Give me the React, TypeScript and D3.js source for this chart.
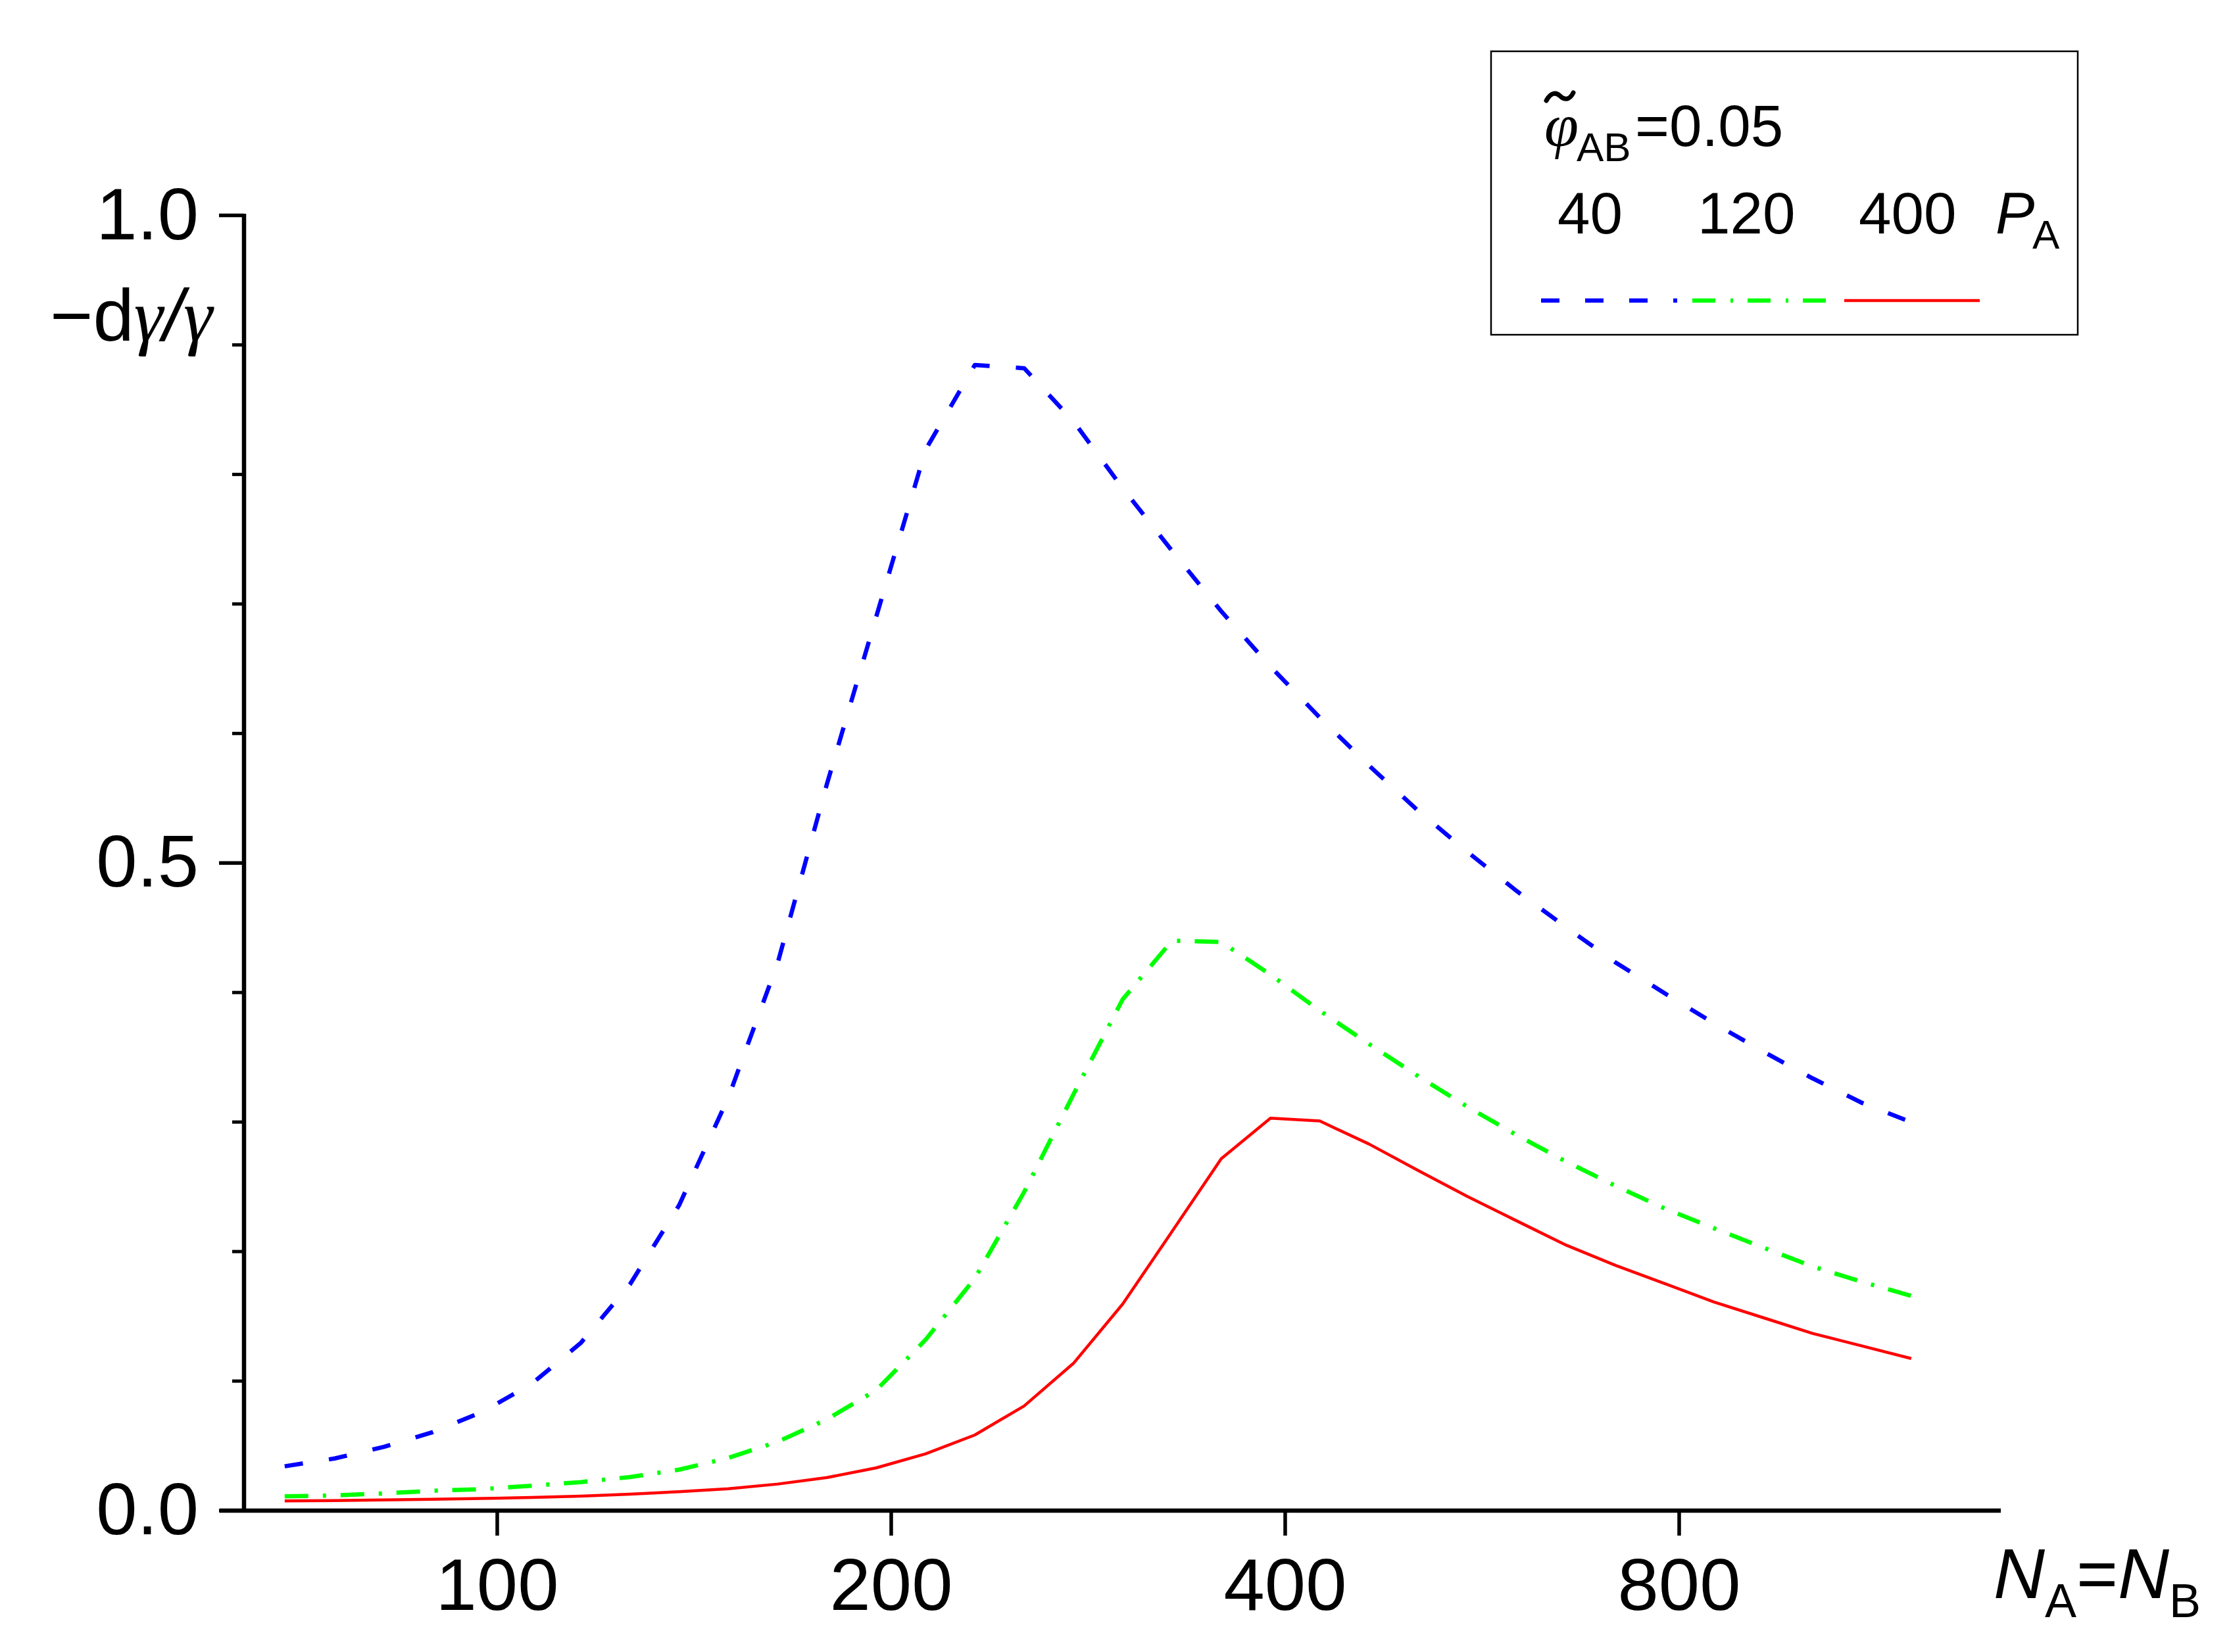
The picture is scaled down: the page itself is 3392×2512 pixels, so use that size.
import React from 'react';
import * as d3 from 'd3';

// Chain length N_A = N_B (log axis) at which each curve was sampled
const N_VALUES = [68.8, 75.1, 81.9, 89.3, 97.4, 106.2, 115.8, 126.3, 137.7, 150.2, 163.8, 178.6, 194.8, 212.5, 231.7, 252.7, 275.6, 300.5, 327.8, 357.4, 389.8, 425.1, 463.6, 505.6, 551.4, 601.4, 655.9, 715.3, 780.1, 850.7, 927.8, 1011.8, 1103.5, 1203.4];

// -dγ/γ for P_A = 40 (blue dashed)
const P40 = [0.0342, 0.0402, 0.0492, 0.0606, 0.0762, 0.0977, 0.1293, 0.1747, 0.2357, 0.3192, 0.4229, 0.5609, 0.6902, 0.8192, 0.8845, 0.8820, 0.8410, 0.7894, 0.7410, 0.6944, 0.6516, 0.6123, 0.5752, 0.5402, 0.5084, 0.4782, 0.4503, 0.4232, 0.3993, 0.3762, 0.3543, 0.3337, 0.3148, 0.2999];

// -dγ/γ for P_A = 120 (green dash-dot)
const P120 = [0.0110, 0.0117, 0.0133, 0.0153, 0.0166, 0.0192, 0.0220, 0.0259, 0.0316, 0.0407, 0.0532, 0.0705, 0.0930, 0.1320, 0.1793, 0.2460, 0.3214, 0.3947, 0.4400, 0.4390, 0.4138, 0.3860, 0.3602, 0.3353, 0.3117, 0.2898, 0.2694, 0.2507, 0.2332, 0.2180, 0.2030, 0.1885, 0.1766, 0.1658];

// -dγ/γ for P_A = 400 (red solid)
const P400 = [0.0075, 0.0078, 0.0083, 0.0088, 0.0094, 0.0101, 0.0112, 0.0127, 0.0146, 0.0169, 0.0205, 0.0255, 0.0330, 0.0439, 0.0584, 0.0808, 0.1137, 0.1594, 0.2155, 0.2716, 0.3030, 0.3008, 0.2830, 0.2625, 0.2424, 0.2236, 0.2049, 0.1893, 0.1752, 0.1610, 0.1489, 0.1368, 0.1271, 0.1174];

const X_TICKS = [100, 200, 400, 800];
const Y_MAJOR = [0, 0.5, 1.0];
const Y_MINOR = [0.1, 0.2, 0.3, 0.4, 0.6, 0.7, 0.8, 0.9];
const LEGEND_P = ['40', '120', '400'];
const LEGEND_PHI = '0.05';

const SANS = '"Liberation Sans", Arial, Helvetica, sans-serif';
const SERIF = '"Liberation Serif", "Times New Roman", serif';

export default function App() {
  const W = 3392;
  const H = 2512;
  const x = d3.scaleLog().domain([100, 800]).range([756, 2553]);
  const y = d3.scaleLinear().domain([0, 1]).range([2297, 327.5]);

  const axisX = 371; // y-axis position
  const xAxisStart = 334;
  const xAxisEnd = 3042;

  const series = [
    { values: P40, color: '#0000ff', dash: '28 40', width: 6.5 },
    { values: P120, color: '#00ff00', dash: '36 22 5 22', width: 6.5 },
    { values: P400, color: '#ff0000', dash: undefined as string | undefined, width: 4.5 },
  ];

  const line = d3
    .line<number>()
    .x((_, i) => x(N_VALUES[i]))
    .y((d) => y(d));

  const legendLines = [
    { x1: 2343, x2: 2550, color: '#0000ff', dash: '28 39', width: 6.5 },
    { x1: 2573, x2: 2777, color: '#00ff00', dash: '35 23 4 22', width: 6.5 },
    { x1: 2804, x2: 3010, color: '#ff0000', dash: undefined as string | undefined, width: 4.5 },
  ];
  const legendPx = [2368, 2581, 2826];

  // tilde accent over φ (drawn as a small curve)
  const tildePath = 'M2351,153 C2358,140 2366,140 2372,146 C2378,152 2386,153 2392,141';

  return (
    <svg
      width={W}
      height={H}
      viewBox={`0 0 ${W} ${H}`}
      style={{ position: 'absolute', left: 0, top: 0, display: 'block', background: '#fff' }}
    >
      <rect x={0} y={0} width={W} height={H} fill="#fff" />

      {/* data curves */}
      {series.map((s, i) => (
        <path
          key={i}
          d={line(s.values) || ''}
          fill="none"
          stroke={s.color}
          strokeWidth={s.width}
          strokeDasharray={s.dash}
          strokeLinejoin="round"
          strokeLinecap="butt"
        />
      ))}

      {/* axes */}
      <line x1={xAxisStart} x2={xAxisEnd} y1={y(0)} y2={y(0)} stroke="#000" strokeWidth={6.5} />
      <line x1={axisX} x2={axisX} y1={y(0) + 3} y2={y(1) - 2.5} stroke="#000" strokeWidth={6.5} />

      {/* y ticks */}
      {Y_MAJOR.map((v) => (
        <g key={`ym${v}`}>
          <line x1={axisX} x2={333} y1={y(v)} y2={y(v)} stroke="#000" strokeWidth={5.5} />
          <text
            x={302}
            y={y(v) + 36}
            textAnchor="end"
            fontFamily={SANS}
            fontSize={112}
            fill="#000"
          >
            {v.toFixed(1)}
          </text>
        </g>
      ))}
      {Y_MINOR.map((v) => (
        <line key={`yn${v}`} x1={axisX} x2={353} y1={y(v)} y2={y(v)} stroke="#000" strokeWidth={5} />
      ))}

      {/* x ticks */}
      {X_TICKS.map((t) => (
        <g key={`xt${t}`}>
          <line x1={x(t)} x2={x(t)} y1={y(0)} y2={y(0) + 38} stroke="#000" strokeWidth={5.5} />
          <text x={x(t)} y={2448} textAnchor="middle" fontFamily={SANS} fontSize={112} fill="#000">
            {t}
          </text>
        </g>
      ))}

      {/* x-axis label */}
      <text x={3031} y={2430} fontFamily={SANS} fontSize={108} fill="#000">
        <tspan fontStyle="italic">N</tspan>
        <tspan fontSize={72} dy={29}>A</tspan>
        <tspan dy={-29}>=</tspan>
        <tspan fontStyle="italic">N</tspan>
        <tspan fontSize={72} dy={29}>B</tspan>
      </text>

      {/* y-axis label */}
      <text x={76} y={518} fontFamily={SANS} fontSize={112} fill="#000">
        <tspan>−d</tspan>
        <tspan fontFamily={SERIF} fontStyle="italic">γ</tspan>
        <tspan fontStyle="italic">/</tspan>
        <tspan fontFamily={SERIF} fontStyle="italic">γ</tspan>
      </text>

      {/* legend */}
      <rect x={2267} y={78} width={892} height={431} fill="#fff" stroke="#000" strokeWidth={2.5} />
      <path d={tildePath} fill="none" stroke="#000" strokeWidth={7} strokeLinecap="round" />
      <text fontFamily={SANS} fill="#000">
        <tspan x={2348} y={222} fontFamily={SERIF} fontStyle="italic" fontSize={94}>φ</tspan>
        <tspan x={2397} y={245} fontSize={62}>AB</tspan>
        <tspan x={2486} y={222} fontSize={89}>={LEGEND_PHI}</tspan>
      </text>
      {LEGEND_P.map((p, i) => (
        <text key={p} x={legendPx[i]} y={355} fontFamily={SANS} fontSize={89} fill="#000">
          {p}
        </text>
      ))}
      <text x={3034} y={355} fontFamily={SANS} fontSize={89} fill="#000">
        <tspan fontStyle="italic">P</tspan>
        <tspan x={3090} y={378} fontSize={62}>A</tspan>
      </text>
      {legendLines.map((l, i) => (
        <line
          key={`ll${i}`}
          x1={l.x1}
          x2={l.x2}
          y1={457}
          y2={457}
          stroke={l.color}
          strokeWidth={l.width}
          strokeDasharray={l.dash}
        />
      ))}
    </svg>
  );
}
